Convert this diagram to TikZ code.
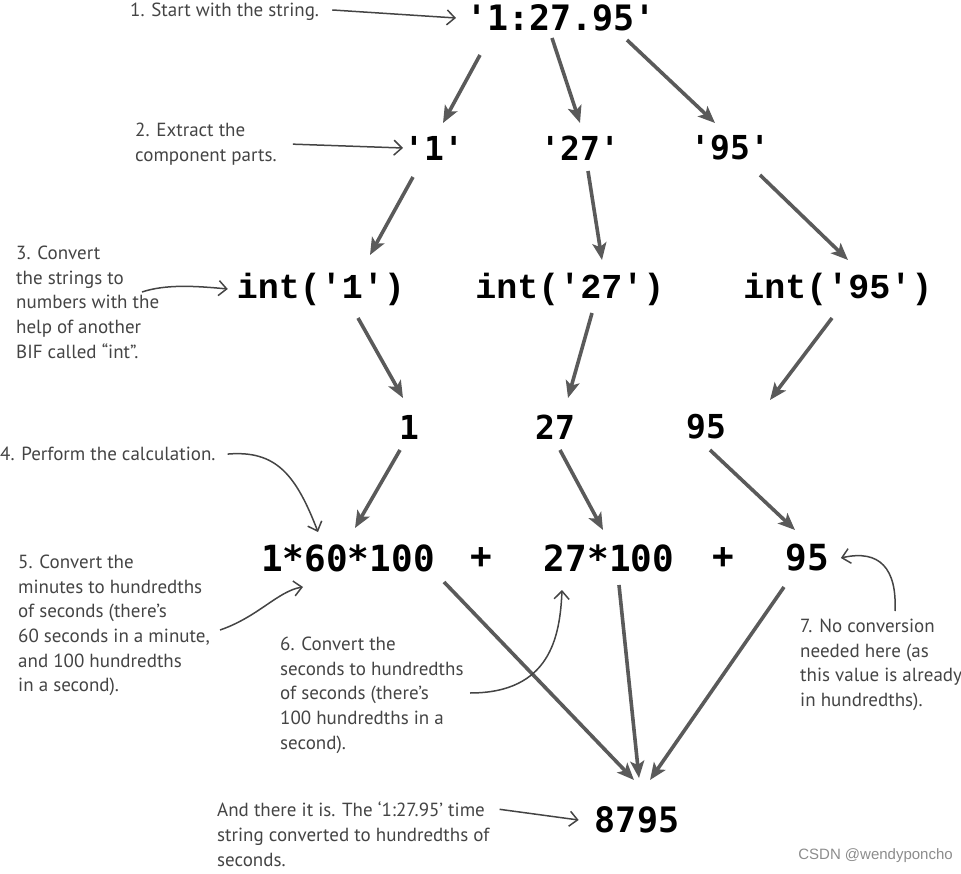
\documentclass[tikz,border=0pt]{standalone}
\usepackage{fontspec}
\usetikzlibrary{arrows.meta}
\newfontfamily\codeA{DejaVu Sans Mono}
\newfontfamily\codeB{Liberation Mono}
\newfontfamily\hand{PT Sans}
\newfontfamily\wm{Liberation Sans}
\definecolor{arr}{HTML}{5A5A5A}
\definecolor{ink}{HTML}{444444}
\newcommand\sq{\char"27\relax}
\tikzset{
  codea/.style={font={\codeA\bfseries\fontsize{33}{33}\selectfont}, inner sep=0pt, text=black},
  codeb/.style={font={\codeB\bfseries\fontsize{35}{35}\selectfont}, inner sep=0pt, text=black},
  codec/.style={font={\codeA\bfseries\fontsize{36}{36}\selectfont}, inner sep=0pt, text=black},
  note/.style={font={\hand\fontsize{19}{24.6}\selectfont}, text=ink, align=left, inner sep=0pt, anchor=north west},
  flow/.style={draw=arr, line width=3.6pt, -{Stealth[length=17pt,width=14pt,inset=4pt]}},
  hint/.style={draw=ink, line width=1.5pt, -{Straight Barb[length=8pt,width=15pt]}},
}
\begin{document}
\begin{tikzpicture}[x=1pt,y=-1pt]
\useasboundingbox (0,0) rectangle (961,874);
% code nodes
\node[codea,font={\codeA\bfseries\fontsize{35}{35}\selectfont}] (top) at (561,18) {\sq1:27.95\sq};
\node[codea] (q1) at (434,148) {\sq1\sq};
\node[codea] (q27) at (580,148) {\sq27\sq};
\node[codea] (q95) at (730,148) {\sq95\sq};
\node[codeb] (i1) at (321,289) {int(\sq1\sq)};
\node[codeb] (i27) at (570,289) {int(\sq27\sq)};
\node[codeb] (i95) at (838,289) {int(\sq95\sq)};
\node[codea] (n1) at (409,427) {1};
\node[codea] (n27) at (555,427) {27};
\node[codea] (n95) at (706,427) {95};
\node[codec] (e1) at (348,558) {1*60*100};
\node[codec] (p1) at (481,558) {+};
\node[codec] (e27) at (609,558) {27*100};
\node[codec] (p2) at (723,558) {+};
\node[codec] (e95) at (807,558) {95};
\node[codec,font={\codeA\bfseries\fontsize{35}{35}\selectfont}] (res) at (637,820) {8795};
% flow arrows
\draw[flow] ([shift={(-81,37)}]top.center) -- ([shift={(9,-25)}]q1.center);
\draw[flow] ([shift={(-9,20)}]top.center) -- ([shift={(0,-25)}]q27.center);
\draw[flow] ([shift={(66,22)}]top.center) -- ([shift={(-15,-25)}]q95.center);
\draw[flow] ([shift={(-21,29)}]q1.center) -- ([shift={(49,-34)}]i1.center);
\draw[flow] ([shift={(8,23)}]q27.center) -- ([shift={(32,-29)}]i27.center);
\draw[flow] ([shift={(30,27)}]q95.center) -- ([shift={(10,-29)}]i95.center);
\draw[flow] ([shift={(37,29)}]i1.center) -- ([shift={(-6,-29)}]n1.center);
\draw[flow] ([shift={(22,24)}]i27.center) -- ([shift={(13,-29)}]n27.center);
\draw[flow] ([shift={(-6,29)}]i95.center) -- ([shift={(64,-27)}]n95.center);
\draw[flow] ([shift={(-9,23)}]n1.center) -- ([shift={(7,-30)}]e1.center);
\draw[flow] ([shift={(5,23)}]n27.center) -- ([shift={(-6,-28)}]e27.center);
\draw[flow] ([shift={(4,23)}]n95.center) -- ([shift={(-12,-28)}]e95.center);
\draw[flow] ([shift={(96,24)}]e1.center) -- ([shift={(-3,-40)}]res.center);
\draw[flow] ([shift={(10,27)}]e27.center) -- ([shift={(2,-42)}]res.center);
\draw[flow] ([shift={(-23,29)}]e95.center) -- ([shift={(13,-40)}]res.center);
% notes
\node[note] (a1) at (130,3) {1. Start with the string.};
\node[note] (a2) at (135,123) {2. Extract the\\component parts.};
\node[note] (a3) at (16,246) {3. Convert\\the strings to\\numbers with the\\help of another\\BIF called “int”.};
\node[note] (a4) at (0,447) {4. Perform the calculation.};
\node[note] (a5) at (18,555) {5. Convert the\\minutes to hundredths\\of seconds (there’s\\60 seconds in a minute,\\and 100 hundredths\\in a second).};
\node[note] (a6) at (280,637) {6. Convert the\\seconds to hundredths\\of seconds (there’s\\100 hundredths in a\\second).};
\node[note] (a7) at (800,619) {7. No conversion\\needed here (as\\this value is already\\in hundredths).};
\node[note] (a8) at (217,802) {And there it is. The ‘1:27.95’ time\\string converted to hundredths of\\seconds.};
\node[font={\wm\fontsize{15}{15}\selectfont}, text=black!45, anchor=east, inner sep=0pt] (wmk) at (953,856) {CSDN @wendyponcho};
% hint arrows
\draw[hint] ([shift={(13,-2)}]a1.east) -- ([xshift=-10]top.west);
\draw[hint] ([shift={(16,0)}]a2.east) -- ([xshift=-1]q1.west);
\draw[hint] ([shift={(126,46)}]a3.north west) .. controls ([shift={(150,38)}]a3.north west) and ([shift={(180,40)}]a3.north west) .. ([xshift=-9]i1.west);
\draw[hint] ([shift={(12,0)}]a4.east) .. controls ([shift={(60,-4)}]a4.east) and ([shift={(80,20)}]a4.east) .. ([shift={(-30,-26)}]e1.center);
\draw[hint] ([shift={(202,75)}]a5.north west) .. controls ([shift={(240,62)}]a5.north west) and ([shift={(260,36)}]a5.north west) .. ([shift={(-45,29)}]e1.center);
\draw[hint] ([shift={(190,56)}]a6.north west) .. controls ([shift={(270,56)}]a6.north west) and ([shift={(280,0)}]a6.north west) .. ([shift={(-47,32)}]e27.center);
\draw[hint] ([shift={(95,-8)}]a7.north west) .. controls ([shift={(97,-50)}]a7.north west) and ([shift={(80,-70)}]a7.north west) .. ([xshift=12]e95.east);
\draw[hint] ([shift={(10,-25)}]a8.east) -- ([xshift=-16]res.west);
\end{tikzpicture}
\end{document}
